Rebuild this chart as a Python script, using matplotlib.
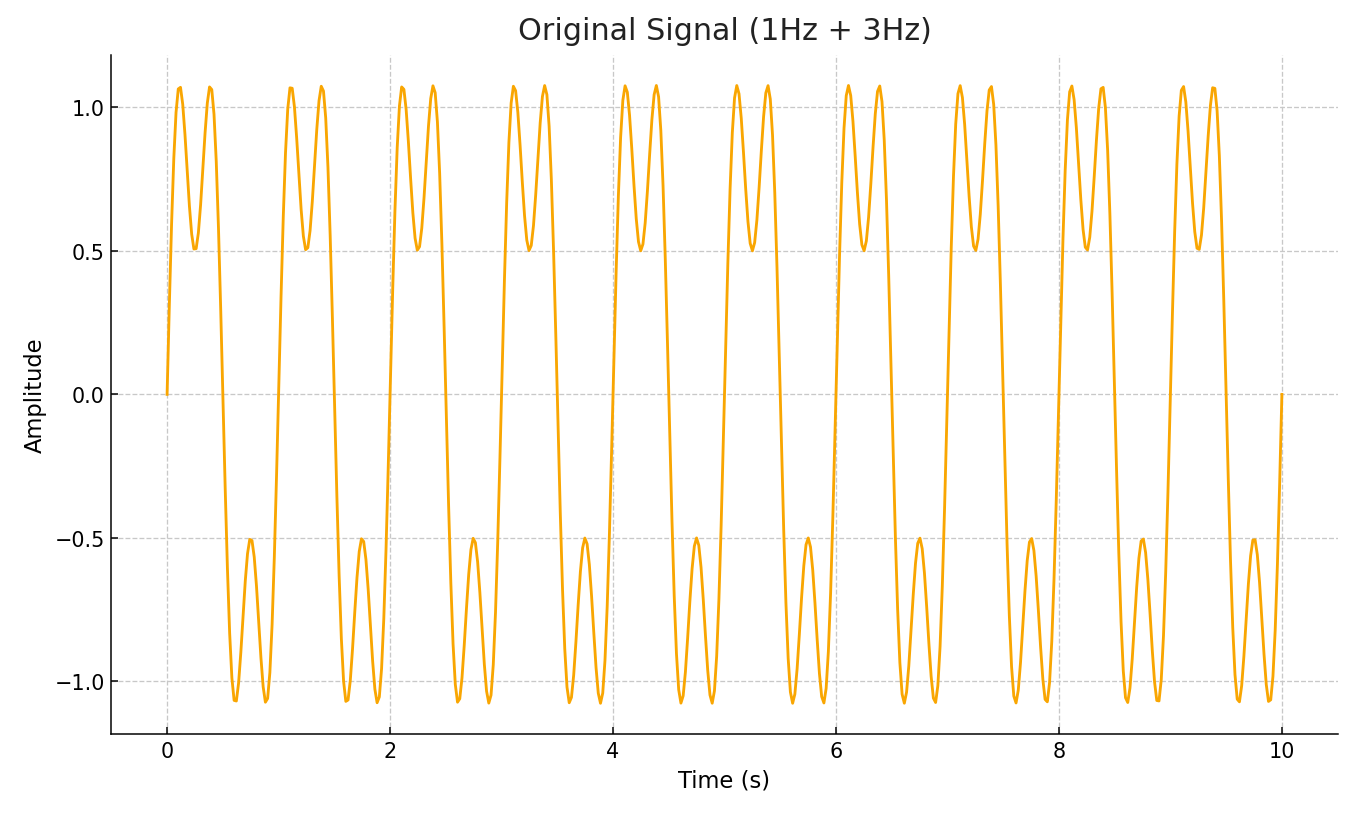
import numpy as np
import matplotlib
matplotlib.use("Agg")
import matplotlib.pyplot as plt

# Signal components: 1 Hz + 3 Hz
frequencies_hz = [1, 3]
amplitudes = [1.0, 0.5]
t_start, t_end, n_samples = 0, 10, 500

t = np.linspace(t_start, t_end, n_samples)
signal = sum(a * np.sin(2 * np.pi * f * t) for f, a in zip(frequencies_hz, amplitudes))

fig, ax = plt.subplots(figsize=(10, 6), dpi=135.8)
ax.plot(t, signal, color="#F9A602", linewidth=1.5)
ax.set_title("Original Signal (1Hz + 3Hz)", fontsize=16, color="#222222", pad=8)
ax.set_xlabel("Time (s)", fontsize=12)
ax.set_ylabel("Amplitude", fontsize=12)
ax.grid(True, linestyle="--", color="#c8c8c8", linewidth=0.7)
ax.spines["top"].set_visible(False)
ax.spines["right"].set_visible(False)
ax.tick_params(direction="in", labelsize=11)
fig.subplots_adjust(left=0.082, right=0.985, bottom=0.098, top=0.932)
fig.savefig("out.png")
